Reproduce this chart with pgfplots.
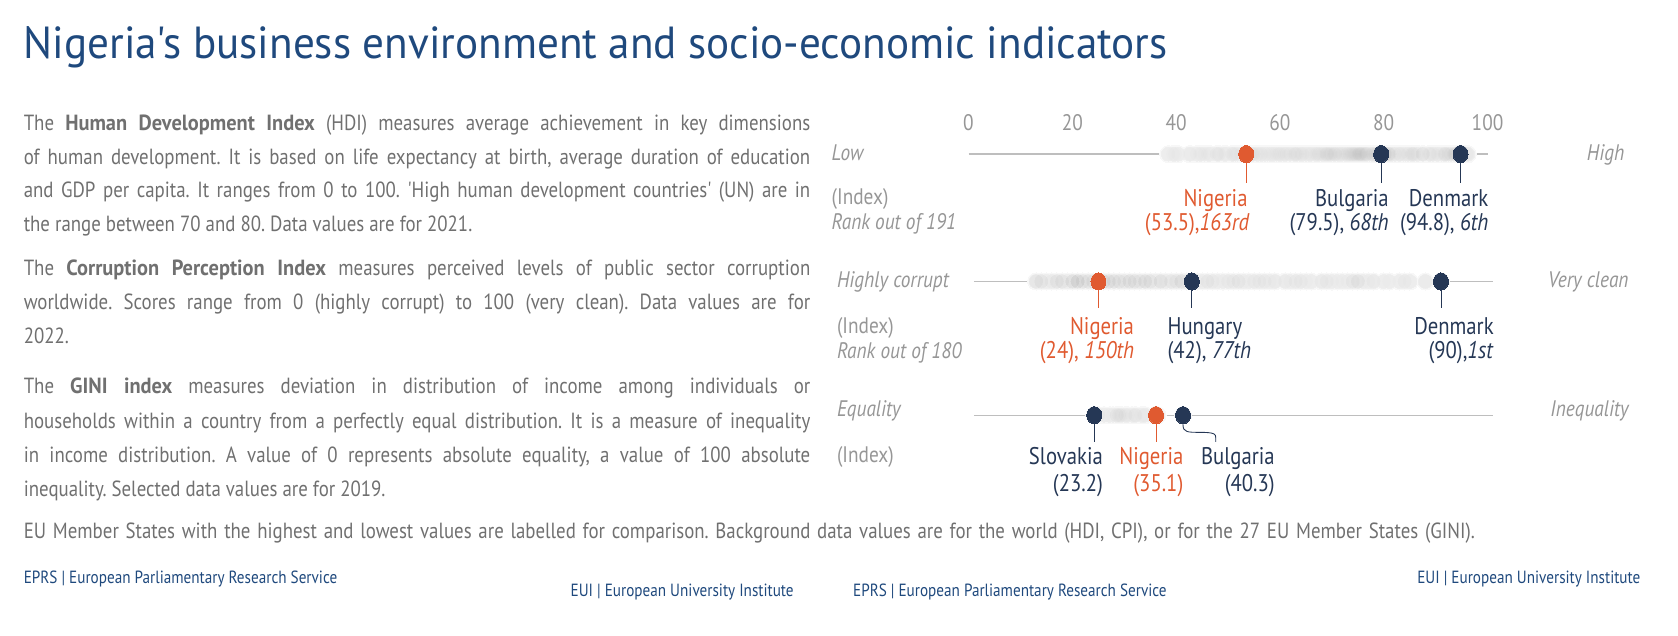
\documentclass[border=0pt]{standalone}
\usepackage{fontspec}
\setmainfont{PT Sans}[FakeStretch=0.86, BoldFeatures={FakeStretch=0.93}]
\newfontfamily\bodyff{PT Sans}[FakeStretch=0.86, BoldFeatures={FakeStretch=0.93}]
\newfontfamily\titlefont{PT Sans}[FakeStretch=0.96]
\usepackage{pgfplots}
\pgfplotsset{compat=1.18}
\definecolor{titleblue}{RGB}{31,73,125}
\definecolor{bodygrey}{RGB}{112,112,112}
\definecolor{sidegrey}{RGB}{150,150,150}
\definecolor{navy}{RGB}{37,55,85}
\definecolor{nigeria}{RGB}{224,90,48}
\definecolor{axisgrey}{RGB}{190,190,190}
\definecolor{bgouter}{RGB}{247,247,247}
\definecolor{bginner}{RGB}{239,239,239}
\newcommand{\bodyfont}{\fontsize{20.5}{24}\selectfont}
\newcommand{\jl}[1]{\makebox[735pt][s]{#1}}
\newcommand{\lblfont}{\fontsize{22.5}{26}\selectfont}
\newcommand{\sidefont}{\fontsize{21}{24}\selectfont}
\pgfplotsset{
  bgA/.style={only marks, mark=*, mark size=8pt, color=bgouter, forget plot,
    mark options={line width=0pt}},
  bgB/.style={only marks, mark=*, mark size=6.5pt, color=bginner, forget plot,
    mark options={line width=0pt}},
  bgC/.style={only marks, mark=*, mark size=6.5pt, color=black, forget plot,
    mark options={line width=0pt, draw opacity=0, fill opacity=0.007}},
  dotN/.style={only marks, mark=*, mark size=7pt, color=nigeria, forget plot,
    mark options={line width=0pt, yscale=1.15}},
  dotB/.style={only marks, mark=*, mark size=7pt, color=navy, forget plot,
    mark options={line width=0pt, yscale=1.15}},
}
\pgfplotstableread{
v y
96.2 0
96.1 0
95.9 0
95.2 0
95.1 0
94.8 0
94.7 0
94.5 0
94.2 0
94.1 0
94.0 0
93.9 0
93.7 0
93.7 0
93.6 0
93.5 0
93.0 0
92.9 0
92.5 0
92.5 0
92.1 0
91.9 0
91.8 0
91.8 0
91.6 0
91.1 0
90.5 0
90.3 0
89.6 0
89.5 0
89.0 0
88.9 0
88.7 0
87.6 0
87.5 0
87.5 0
87.5 0
86.6 0
86.3 0
85.8 0
85.8 0
85.5 0
85.5 0
85.3 0
84.8 0
84.6 0
84.2 0
83.8 0
83.2 0
83.1 0
82.9 0
82.2 0
82.1 0
81.6 0
81.2 0
81.1 0
81.0 0
80.9 0
80.9 0
80.8 0
80.5 0
80.3 0
80.2 0
80.2 0
80.2 0
80.0 0
79.5 0
79.2 0
79.1 0
79.0 0
78.8 0
78.7 0
78.5 0
78.4 0
78.3 0
78.0 0
77.9 0
77.8 0
77.6 0
77.3 0
76.8 0
76.7 0
76.6 0
76.5 0
76.4 0
76.2 0
76.0 0
75.8 0
75.7 0
75.6 0
75.4 0
75.4 0
75.3 0
75.2 0
75.1 0
74.9 0
74.7 0
74.6 0
74.5 0
74.3 0
74.2 0
74.0 0
73.9 0
73.7 0
73.5 0
73.4 0
73.1 0
73.0 0
72.8 0
72.5 0
72.1 0
72.0 0
71.6 0
71.4 0
71.1 0
70.7 0
70.6 0
70.5 0
70.3 0
69.9 0
69.8 0
69.6 0
69.5 0
69.2 0
69.1 0
69.0 0
68.9 0
68.6 0
68.3 0
68.0 0
67.6 0
67.5 0
67.2 0
67.0 0
66.7 0
66.1 0
65.8 0
65.5 0
65.0 0
64.4 0
64.2 0
63.9 0
63.4 0
63.2 0
63.0 0
62.9 0
62.6 0
62.0 0
61.8 0
61.3 0
61.0 0
60.7 0
60.2 0
59.9 0
59.7 0
59.3 0
58.9 0
58.5 0
58.1 0
57.6 0
57.1 0
56.5 0
56.3 0
55.8 0
55.5 0
54.9 0
54.9 0
54.6 0
54.4 0
54.0 0
53.9 0
53.5 0
53.4 0
52.5 0
51.8 0
51.4 0
51.1 0
50.9 0
50.8 0
49.6 0
49.2 0
48.3 0
48.2 0
47.9 0
47.8 0
46.5 0
46.1 0
45.5 0
44.9 0
44.6 0
44.0 0
42.8 0
42.6 0
40.4 0
39.8 0
39.4 0
38.5 0
}\hditable
\pgfplotstableread{
v y
90 0
87 0
87 0
84 0
83 0
83 0
82 0
80 0
79 0
77 0
77 0
76 0
75 0
74 0
74 0
74 0
74 0
73 0
73 0
73 0
72 0
71 0
70 0
69 0
68 0
68 0
67 0
67 0
65 0
64 0
63 0
63 0
62 0
62 0
61 0
60 0
60 0
58 0
58 0
57 0
56 0
56 0
55 0
55 0
54 0
54 0
53 0
52 0
51 0
51 0
51 0
50 0
50 0
49 0
49 0
48 0
47 0
46 0
46 0
45 0
45 0
45 0
44 0
43 0
42 0
42 0
42 0
42 0
42 0
41 0
40 0
40 0
40 0
40 0
40 0
39 0
39 0
39 0
38 0
38 0
38 0
37 0
36 0
36 0
36 0
36 0
36 0
35 0
34 0
34 0
34 0
34 0
33 0
33 0
33 0
33 0
33 0
32 0
32 0
32 0
31 0
31 0
31 0
31 0
30 0
30 0
30 0
30 0
30 0
29 0
29 0
29 0
28 0
28 0
28 0
28 0
27 0
27 0
27 0
27 0
26 0
26 0
26 0
26 0
26 0
25 0
25 0
25 0
25 0
25 0
24 0
24 0
24 0
24 0
24 0
23 0
23 0
23 0
23 0
22 0
22 0
22 0
22 0
21 0
21 0
21 0
21 0
20 0
20 0
20 0
20 0
20 0
20 0
20 0
19 0
19 0
19 0
19 0
19 0
19 0
18 0
17 0
17 0
17 0
17 0
16 0
16 0
16 0
16 0
15 0
15 0
14 0
13 0
13 0
13 0
13 0
12 0
12 0
12 0
12 0
}\cpitable
\pgfplotstableread{
v y
23.2 0
23.9 0
24.0 0
25.1 0
26.2 0
26.8 0
27.5 0
27.5 0
27.6 0
28.0 0
28.0 0
28.3 0
28.5 0
29.2 0
29.2 0
29.7 0
30.5 0
31.0 0
31.1 0
31.2 0
32.3 0
32.8 0
33.0 0
34.8 0
35.2 0
35.4 0
40.3 0
}\ginitable
\begin{document}
\bodyff\frenchspacing
\begin{tikzpicture}[x=1pt,y=1pt]
\path[use as bounding box] (0,0) rectangle (1568,594);
% title
\node[anchor=base west, inner sep=0, text=titleblue, font=\titlefont\fontsize{42}{48}\selectfont] at (22,539) {Nigeria's business environment and socio-economic indicators};
% paragraphs
\begin{scope}[every node/.style={anchor=base west, inner sep=0, text=bodygrey, font=\bodyfont}]
\node at (22,472) {\jl{The \textbf{Human Development Index} (HDI) measures average achievement in key dimensions}};
\node at (22,440.5) {\jl{of human development. It is based on life expectancy at birth, average duration of education}};
\node at (22,409) {\jl{and GDP per capita. It ranges from 0 to 100. 'High human development countries' (UN) are in}};
\node at (22,377.5) {the range between 70 and 80. Data values are for 2021.};
\node at (22,337) {\jl{The \textbf{Corruption Perception Index} measures perceived levels of public sector corruption}};
\node at (22,305) {\jl{worldwide. Scores range from 0 (highly corrupt) to 100 (very clean). Data values are for}};
\node at (22,273) {2022.};
\node at (22,226) {\jl{The \textbf{GINI index} measures deviation in distribution of income among individuals or}};
\node at (22,194) {\jl{households within a country from a perfectly equal distribution. It is a measure of inequality}};
\node at (22,162) {\jl{in income distribution. A value of 0 represents absolute equality, a value of 100 absolute}};
\node at (22,130) {inequality. Selected data values are for 2019.};
\node at (22,91) {\makebox[1356pt][s]{EU Member States with the highest and lowest values are labelled for comparison. Background data values are for the world (HDI, CPI), or for the 27 EU Member States (GINI).}};
\end{scope}
% footer
\begin{scope}[every node/.style={inner sep=0, text=titleblue, font=\fontsize{16.5}{18}\selectfont}]
\node[anchor=base west] at (22,49) {EPRS | European Parliamentary Research Service};
\node[anchor=base west] at (533,37) {EUI | European University Institute};
\node[anchor=base west] at (797,37) {EPRS | European Parliamentary Research Service};
\node[anchor=base east] at (1533,49) {EUI | European University Institute};
\end{scope}
% side labels
\begin{scope}[every node/.style={inner sep=0, text=sidegrey, font=\sidefont}]
\node[anchor=base west] at (777,444) {\itshape Low};
\node[anchor=base east] at (1518,444) {\itshape High};
\node[anchor=base west] at (777,403) {(Index)};
\node[anchor=base west] at (777,380) {\itshape Rank out of 191};
\node[anchor=base west] at (782,325) {\itshape Highly corrupt};
\node[anchor=base east] at (1522,325) {\itshape Very clean};
\node[anchor=base west] at (782,282) {(Index)};
\node[anchor=base west] at (782,259) {\itshape Rank out of 180};
\node[anchor=base west] at (782,205) {\itshape Equality};
\node[anchor=base east] at (1522,205) {\itshape Inequality};
\node[anchor=base west] at (782,162) {(Index)};
\end{scope}
%================ HDI
\begin{axis}[at={(905pt,450pt)}, anchor=west, scale only axis, width=485pt, height=58pt,
  xmin=0, xmax=100, ymin=-29, ymax=29, clip=false,
  axis x line*=top, axis y line=none, axis line style={draw=none},
  major tick length=0, xtick={0,20,40,60,80,100},
  xticklabel style={anchor=center, text=sidegrey, font=\fontsize{21}{21}\selectfont},
  /pgf/number format/assume math mode=true]
\addplot[bgA] table[x=v, y=y] {\hditable};
\addplot[bgB] table[x=v, y=y] {\hditable};
\addplot[bgC] table[x=v, y=y] {\hditable};
\addplot[axisgrey, line width=1.2pt, forget plot] coordinates {(0,0) (100,0)};
\addplot[nigeria, line width=0.8pt, forget plot] coordinates {(53.5,0) (53.5,-27)};
\addplot[navy, line width=0.8pt, forget plot] coordinates {(79.5,0) (79.5,-27)};
\addplot[navy, line width=0.8pt, forget plot] coordinates {(94.8,0) (94.8,-27)};
\addplot[dotN] coordinates {(53.5,0)};
\addplot[dotB] coordinates {(79.5,0) (94.8,0)};
\node[anchor=base east, inner sep=0, text=nigeria, font=\lblfont] at (axis cs:53.8,-48.5) {Nigeria};
\node[anchor=base east, inner sep=0, text=nigeria, font=\lblfont] at (axis cs:54.2,-71.5) {(53.5),\textit{163rd}};
\node[anchor=base east, inner sep=0, text=navy, font=\lblfont] at (axis cs:81.0,-48.5) {Bulgaria};
\node[anchor=base east, inner sep=0, text=navy, font=\lblfont] at (axis cs:81.0,-71.5) {(79.5), \textit{68th}};
\node[anchor=base east, inner sep=0, text=navy, font=\lblfont] at (axis cs:100.2,-48.5) {Denmark};
\node[anchor=base east, inner sep=0, text=navy, font=\lblfont] at (axis cs:100.2,-71.5) {(94.8), \textit{6th}};
\end{axis}
%================ CPI
\begin{axis}[at={(910pt,331pt)}, anchor=west, scale only axis, width=485pt, height=58pt,
  xmin=0, xmax=100, ymin=-29, ymax=29, clip=false, hide axis]
\addplot[bgA] table[x=v, y=y] {\cpitable};
\addplot[bgB] table[x=v, y=y] {\cpitable};
\addplot[bgC] table[x=v, y=y] {\cpitable};
\addplot[axisgrey, line width=1.2pt, forget plot] coordinates {(0,0) (100,0)};
\addplot[nigeria, line width=0.8pt, forget plot] coordinates {(24,0) (24,-25)};
\addplot[navy, line width=0.8pt, forget plot] coordinates {(42,0) (42,-25)};
\addplot[navy, line width=0.8pt, forget plot] coordinates {(90,0) (90,-25)};
\addplot[dotN] coordinates {(24,0)};
\addplot[dotB] coordinates {(42,0) (90,0)};
\node[anchor=base east, inner sep=0, text=nigeria, font=\lblfont] at (axis cs:30.9,-50) {Nigeria};
\node[anchor=base east, inner sep=0, text=nigeria, font=\lblfont] at (axis cs:30.9,-72) {(24), \textit{150th}};
\node[anchor=base west, inner sep=0, text=navy, font=\lblfont] at (axis cs:37.3,-50) {Hungary};
\node[anchor=base west, inner sep=0, text=navy, font=\lblfont] at (axis cs:37.3,-72) {(42), \textit{77th}};
\node[anchor=base east, inner sep=0, text=navy, font=\lblfont] at (axis cs:100.2,-50) {Denmark};
\node[anchor=base east, inner sep=0, text=navy, font=\lblfont] at (axis cs:100.2,-72) {(90),\textit{1st}};
\end{axis}
%================ GINI
\begin{axis}[at={(910pt,206pt)}, anchor=west, scale only axis, width=485pt, height=58pt,
  xmin=0, xmax=100, ymin=-29, ymax=29, clip=false, hide axis]
\addplot[bgA] table[x=v, y=y] {\ginitable};
\addplot[bgB] table[x=v, y=y] {\ginitable};
\addplot[bgC] table[x=v, y=y] {\ginitable};
\addplot[axisgrey, line width=1.2pt, forget plot] coordinates {(0,0) (100,0)};
\addplot[navy, line width=0.8pt, forget plot] coordinates {(23.2,0) (23.2,-25)};
\addplot[nigeria, line width=0.8pt, forget plot] coordinates {(35.1,0) (35.1,-25)};
\draw[navy, line width=0.8pt] (axis cs:40.3,0) -- (axis cs:40.3,-9) .. controls (axis cs:40.3,-16) and (axis cs:41.2,-16) .. (axis cs:43.6,-16) .. controls (axis cs:46.6,-16) and (axis cs:46.6,-18) .. (axis cs:46.6,-21) -- (axis cs:46.6,-25);
\addplot[dotB] coordinates {(23.2,0) (40.3,0)};
\addplot[dotN] coordinates {(35.1,0)};
\node[anchor=base east, inner sep=0, text=navy, font=\lblfont] at (axis cs:24.9,-46.5) {Slovakia};
\node[anchor=base east, inner sep=0, text=navy, font=\lblfont] at (axis cs:24.9,-71) {(23.2)};
\node[anchor=base east, inner sep=0, text=nigeria, font=\lblfont] at (axis cs:40.4,-46.5) {Nigeria};
\node[anchor=base east, inner sep=0, text=nigeria, font=\lblfont] at (axis cs:40.4,-71) {(35.1)};
\node[anchor=base east, inner sep=0, text=navy, font=\lblfont] at (axis cs:58.0,-46.5) {Bulgaria};
\node[anchor=base east, inner sep=0, text=navy, font=\lblfont] at (axis cs:58.0,-71) {(40.3)};
\end{axis}
\end{tikzpicture}
\end{document}
